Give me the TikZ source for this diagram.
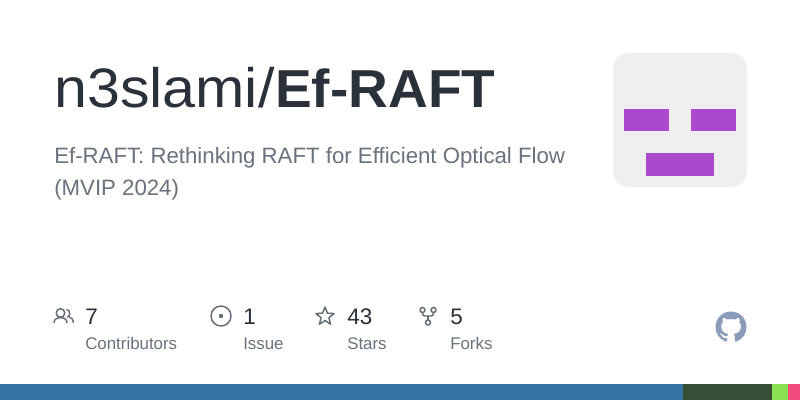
\documentclass[tikz,border=0pt]{standalone}
\usepackage{fontspec}
\setmainfont{Liberation Sans}
\usetikzlibrary{shapes.geometric,svg.path}
\definecolor{titledark}{HTML}{2A313A}
\definecolor{subgray}{HTML}{69727D}
\definecolor{icongray}{HTML}{656D76}
\definecolor{markblue}{HTML}{8B9BBA}
\definecolor{tilegray}{HTML}{EFEFF0}
\definecolor{tilepurple}{HTML}{AA49CE}
\definecolor{barblue}{HTML}{3572A5}
\definecolor{bardark}{HTML}{384D35}
\definecolor{bargreen}{HTML}{89E051}
\definecolor{barpink}{HTML}{F34B7D}
\tikzset{
  title/.style={anchor=base west,inner sep=0pt,text=titledark,xscale=1.065,font=\fontsize{39.5}{39.5}\selectfont},
  titlebold/.style={anchor=base west,inner sep=0pt,text=titledark,xscale=1.03,font=\fontsize{38}{38}\selectfont\bfseries},
  sub/.style={anchor=base west,inner sep=0pt,text=subgray,font=\fontsize{15.8}{15.8}\selectfont},
  count/.style={anchor=base west,inner sep=0pt,text=titledark,font=\fontsize{16}{16}\selectfont},
  caption/.style={anchor=base west,inner sep=0pt,text=subgray,font=\fontsize{12}{12}\selectfont},
  icon/.style={draw=icongray,line width=1.05pt,line cap=round,line join=round},
  block/.style={fill=tilepurple,draw=none}
}
\begin{document}
\begin{tikzpicture}[x=0.025cm,y=-0.025cm]
  \useasboundingbox (0,0) rectangle (800,400);
  \fill[white] (0,0) rectangle (800,400);
  % heading
  \node[title] (owner) at (54,108) {n3slami/};
  \node[titlebold] (repo) at (owner.base east) {Ef-RAFT};
  \node[sub] (descone) at (54,163.5) {Ef-RAFT: Rethinking RAFT for Efficient Optical Flow};
  \node[sub] (desctwo) at (54,195.5) {(MVIP 2024)};
  % tile
  \fill[tilegray,rounded corners=11pt] (613,53) rectangle (747,187);
  \fill[block] (624,109) rectangle (669,131);
  \fill[block] (691,109) rectangle (736,131);
  \fill[block] (646,153) rectangle (714,176);
  % stats
  \node[count] (contribn) at (85,324) {7};
  \node[caption] (contrib) at (85,349) {Contributors};
  \node[count] (issuen) at (243,324) {1};
  \node[caption] (issue) at (243,349) {Issue};
  \node[count] (starn) at (347,324) {43};
  \node[caption] (star) at (347,349) {Stars};
  \node[count] (forkn) at (450,324) {5};
  \node[caption] (fork) at (450,349) {Forks};
  % people
  \draw[icon] (60.5,313) circle (4.3);
  \draw[icon] (54,322.5) .. controls (54,316) and (67,316) .. (67,322.5);
  \draw[icon] (67,309.5) .. controls (70.5,310.5) and (70.5,316) .. (67.5,317);
  \draw[icon] (69.5,317) .. controls (72,318) and (73.5,320) .. (73.5,322.5);
  % issue
  \draw[icon] (221,316) circle (10);
  \fill[icongray] (221,316) circle (2.2);
  % star
  \node[star,star points=5,star point ratio=2.3,icon,minimum size=13.5pt,inner sep=0pt] (staricon) at (325,316.5) {};
  % fork
  \draw[icon] (422.5,310) circle (2.5);
  \draw[icon] (433.5,310) circle (2.5);
  \draw[icon] (428,322.5) circle (2.5);
  \draw[icon] (422.5,312.5) -- (422.5,313.5) .. controls (422.5,315) and (423.5,316) .. (425,316) -- (431,316) .. controls (432.5,316) and (433.5,315) .. (433.5,313.5) -- (433.5,312.5);
  \draw[icon] (428,316) -- (428,320);
  % mark
  \fill[markblue,shift={(715.5,311.5)},scale=1.378,yscale=-1] svg "M8 0C3.58 0 0 3.58 0 8c0 3.54 2.29 6.53 5.47 7.59.4.07.55-.17.55-.38 0-.19-.01-.82-.01-1.49-2.01.37-2.53-.49-2.69-.94-.09-.23-.48-.94-.82-1.13-.28-.15-.68-.52-.01-.53.63-.01 1.08.58 1.23.82.72 1.21 1.87.87 2.33.66.07-.52.28-.87.51-1.07-1.78-.2-3.64-.89-3.64-3.95 0-.87.31-1.59.82-2.15-.08-.2-.36-1.02.08-2.12 0 0 .67-.21 2.2.82.64-.18 1.32-.27 2-.27.68 0 1.36.09 2 .27 1.53-1.04 2.2-.82 2.2-.82.44 1.1.16 1.92.08 2.12.51.56.82 1.27.82 2.15 0 3.07-1.87 3.75-3.65 3.95.29.25.54.73.54 1.48 0 1.07-.01 1.93-.01 2.2 0 .21.15.46.55.38A8.013 8.013 0 0 0 16 8c0-4.42-3.58-8-8-8z";
  % bar
  \fill[barblue] (0,384) rectangle (683,400);
  \fill[bardark] (683,384) rectangle (772,400);
  \fill[bargreen] (772,384) rectangle (788,400);
  \fill[barpink] (788,384) rectangle (800,400);
\end{tikzpicture}
\end{document}
